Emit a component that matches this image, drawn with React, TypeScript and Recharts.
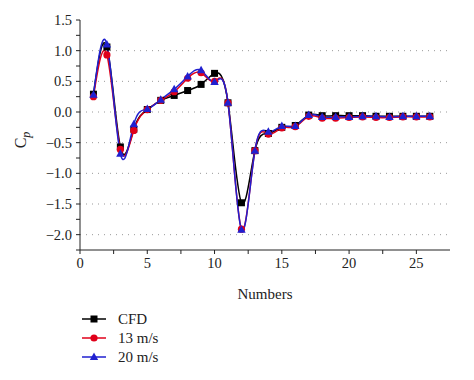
import React from 'react';
import { LineChart, Line, XAxis, YAxis, CartesianGrid, Label } from 'recharts';

const numbers = [1, 2, 3, 4, 5, 6, 7, 8, 9, 10, 11, 12, 13, 14, 15, 16, 17, 18, 19, 20, 21, 22, 23, 24, 25, 26];
const cfd = [0.29, 1.06, -0.57, -0.28, 0.04, 0.19, 0.27, 0.35, 0.45, 0.63, 0.15, -1.48, -0.63, -0.35, -0.25, -0.22, -0.05, -0.06, -0.06, -0.06, -0.06, -0.07, -0.07, -0.07, -0.07, -0.07];
const v13 = [0.25, 0.93, -0.61, -0.3, 0.04, 0.19, 0.33, 0.55, 0.64, 0.5, 0.15, -1.91, -0.63, -0.36, -0.26, -0.24, -0.07, -0.1, -0.1, -0.09, -0.08, -0.09, -0.09, -0.08, -0.08, -0.08];
const v20 = [0.28, 1.1, -0.68, -0.2, 0.05, 0.2, 0.37, 0.58, 0.68, 0.49, 0.15, -1.92, -0.63, -0.32, -0.23, -0.23, -0.05, -0.08, -0.08, -0.08, -0.07, -0.07, -0.08, -0.07, -0.07, -0.07];

const xTicks = [0, 2.5, 5, 7.5, 10, 12.5, 15, 17.5, 20, 22.5, 25];
const yTicks = [-2.25, -2, -1.75, -1.5, -1.25, -1, -0.75, -0.5, -0.25, 0, 0.25, 0.5, 0.75, 1, 1.25, 1.5];
const gridValues = [-2, -1.5, -1, -0.5, 0, 0.5, 1];

const series = [
  { key: 'cfd', name: 'CFD', color: '#000000', shape: 'square' },
  { key: 'v13', name: '13 m/s', color: '#e0001a', shape: 'circle' },
  { key: 'v20', name: '20 m/s', color: '#2020d0', shape: 'triangle' },
];

const data = numbers.map((n, i) => ({ n, cfd: cfd[i], v13: v13[i], v20: v20[i] }));

const FONT = '"Liberation Serif", "Times New Roman", serif';

function Marker({ cx, cy, shape, color }: any) {
  if (cx == null || cy == null) return null;
  if (shape === 'square') {
    return <rect x={cx - 3.5} y={cy - 3.5} width={7} height={7} fill={color} />;
  }
  if (shape === 'circle') {
    return <circle cx={cx} cy={cy} r={3.6} fill={color} />;
  }
  return <polygon points={`${cx},${cy - 4.5} ${cx + 4.2},${cy + 3} ${cx - 4.2},${cy + 3}`} fill={color} />;
}

const XTick = ({ x, y, payload }: any) => {
  if (payload.value % 5 !== 0) return null;
  return (
    <text x={x} y={y + 12} textAnchor="middle" fontSize={14.5} fontFamily={FONT} fill="#222">
      {payload.value}
    </text>
  );
};

const YTick = ({ x, y, payload }: any) => {
  if (Math.abs(payload.value * 2 - Math.round(payload.value * 2)) > 1e-6) return null;
  const s = payload.value.toFixed(1).replace('-', '\u2212');
  return (
    <text x={x - 2} y={y + 5} textAnchor="end" fontSize={14.5} fontFamily={FONT} fill="#222">
      {s}
    </text>
  );
};

export default function App() {
  return (
    <div style={{ position: 'absolute', left: 0, top: 0, width: 474, height: 380, background: '#fff' }}>
      <LineChart width={474} height={380} data={data} margin={{ top: 20, right: 24, left: 30, bottom: 100 }}>
        <CartesianGrid horizontal vertical={false} horizontalValues={gridValues} stroke="#999" strokeDasharray="1 5" />
        <XAxis
          dataKey="n"
          type="number"
          domain={[0, 27.5]}
          ticks={xTicks}
          interval={0}
          tick={<XTick />}
          tickSize={4}
          stroke="#222"
          height={30}
        >
          <Label
            value="Numbers"
            position="bottom"
            offset={8}
            style={{ fontFamily: FONT, fontSize: 15, fill: '#222' }}
          />
        </XAxis>
        <YAxis
          type="number"
          domain={[-2.25, 1.5]}
          ticks={yTicks}
          interval={0}
          tick={<YTick />}
          tickSize={4}
          stroke="#222"
          width={50}
          label={{
            content: () => (
              <text x={26} y={140} transform="rotate(-90 26 140)" textAnchor="middle" fontFamily={FONT} fontSize={16} fill="#222">
                C<tspan fontStyle="italic" fontSize={12} dy={4}>p</tspan>
              </text>
            ),
          }}
        />
        {series.map((s) => (
          <Line
            key={s.key}
            dataKey={s.key}
            type="natural"
            stroke={s.color}
            strokeWidth={1.5}
            isAnimationActive={false}
            dot={(p: any) => <Marker key={`${s.key}-${p.index}`} cx={p.cx} cy={p.cy} shape={s.shape} color={s.color} />}
            activeDot={false}
          />
        ))}
      </LineChart>
      <svg style={{ position: 'absolute', left: 0, top: 0 }} width={474} height={380}>
        {series.map((s, i) => {
          const y = 319 + i * 19;
          return (
            <g key={s.key}>
              <line x1={82} x2={106} y1={y} y2={y} stroke={s.color} strokeWidth={1.5} />
              <Marker cx={94} cy={y} shape={s.shape} color={s.color} />
              <text x={118} y={y + 5} fontFamily={FONT} fontSize={15} fill="#222">{s.name}</text>
            </g>
          );
        })}
      </svg>
    </div>
  );
}
